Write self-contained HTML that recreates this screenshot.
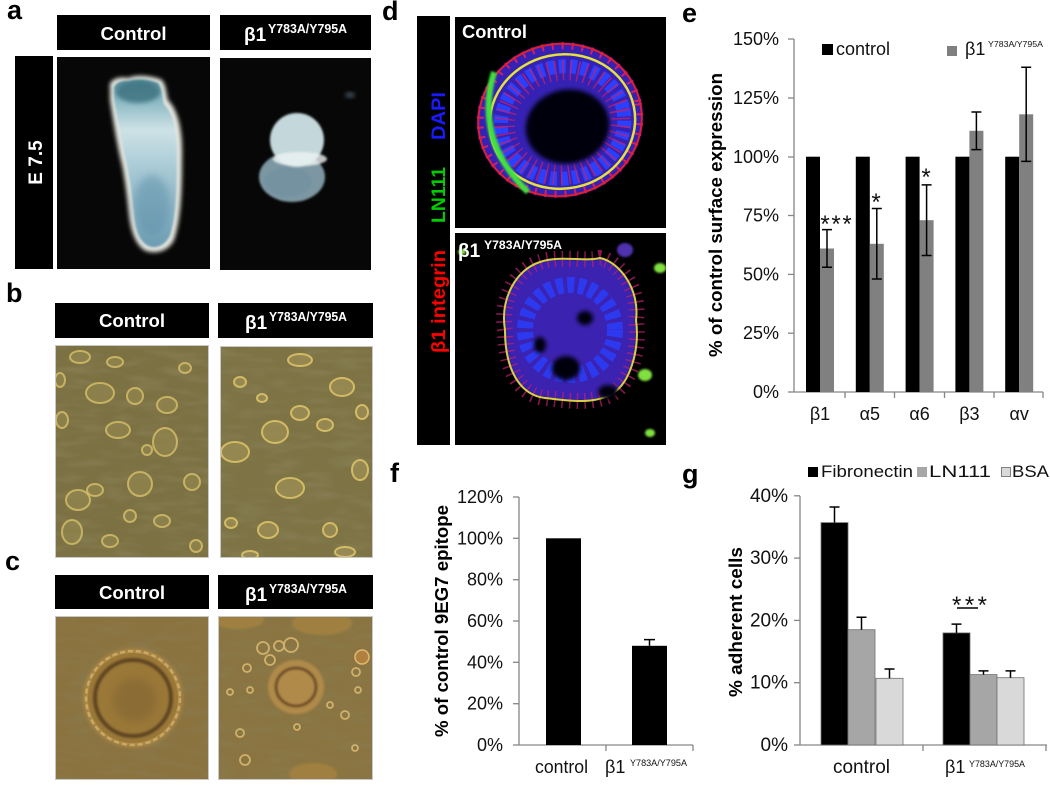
<!DOCTYPE html>
<html><head><meta charset="utf-8"><style>
html,body{margin:0;padding:0;background:#fff;}
svg{display:block;font-family:"Liberation Sans",Arial,sans-serif;}
</style></head><body>
<svg width="1050" height="787" viewBox="0 0 1050 787" xmlns="http://www.w3.org/2000/svg">
<defs>
 <filter id="bl1" x="-20%" y="-20%" width="140%" height="140%"><feGaussianBlur stdDeviation="1"/></filter>
 <filter id="bl2" x="-20%" y="-20%" width="140%" height="140%"><feGaussianBlur stdDeviation="2"/></filter>
 <filter id="bl4" x="-30%" y="-30%" width="160%" height="160%"><feGaussianBlur stdDeviation="4"/></filter>
 <filter id="texD" x="0" y="0" width="1" height="1">
   <feTurbulence type="fractalNoise" baseFrequency="0.03 0.12" numOctaves="2" seed="9"/>
   <feColorMatrix type="matrix" values="0 0 0 0 0.25  0 0 0 0 0.22  0 0 0 0 0.1  0 0 0 1.6 -0.7"/>
 </filter>
 <linearGradient id="embC" x1="0" y1="0" x2="0" y2="1">
   <stop offset="0" stop-color="#4f8694"/>
   <stop offset="0.12" stop-color="#88b6c2"/>
   <stop offset="0.3" stop-color="#cde2e6"/>
   <stop offset="0.55" stop-color="#a6c8d4"/>
   <stop offset="1" stop-color="#6d9db3"/>
 </linearGradient>
</defs>

<!-- ============ PANEL LABELS ============ -->
<g font-weight="bold" font-size="27" fill="#000">
 <text x="7" y="19">a</text>
 <text x="6" y="302">b</text>
 <text x="5" y="570">c</text>
 <text x="382" y="20">d</text>
 <text x="682" y="22">e</text>
 <text x="390" y="482">f</text>
 <text x="682" y="483">g</text>
</g>

<!-- ============ PANEL A ============ -->
<rect x="57" y="15" width="153" height="35" fill="#000"/>
<rect x="220" y="15" width="151" height="35" fill="#000"/>
<rect x="15" y="56" width="38" height="213" fill="#000"/>
<g fill="#fff" font-weight="bold">
 <text x="133.5" y="40" font-size="18" text-anchor="middle" textLength="66" lengthAdjust="spacingAndGlyphs">Control</text>
 <text x="244" y="41" font-size="19">β1</text>
 <text x="268" y="33" font-size="12.5" textLength="79" lengthAdjust="spacingAndGlyphs">Y783A/Y795A</text>
 <text transform="translate(42,162.5) rotate(-90)" font-size="19" text-anchor="middle">E 7.5</text>
</g>
<svg x="57" y="57" width="153" height="212" viewBox="57 57 153 212">
 <rect x="57" y="57" width="153" height="212" fill="#070707"/>
 <path d="M110,88 C108,80 118,76 128,78 C138,74 150,76 160,79 C166,82 166,92 168,100 C178,110 183,130 182,160 C182,190 181,220 174,240 C168,252 155,254 146,251 C136,246 131,232 129,215 C127,195 125,180 122,165 C117,145 113,120 110,100 Z" fill="#e6e8e0" filter="url(#bl2)"/>
 <path d="M114,90 C113,84 120,80 129,81 C139,78 150,80 158,83 C162,88 162,96 164,104 C174,114 178,132 177,160 C177,190 176,218 170,236 C164,247 155,249 148,246 C139,241 135,230 134,214 C132,196 130,182 127,166 C122,146 118,122 114,100 Z" fill="url(#embC)" filter="url(#bl1)"/>
 <ellipse cx="138" cy="92" rx="22" ry="11" fill="#3f7482" opacity="0.85" filter="url(#bl2)"/>
 <ellipse cx="152" cy="205" rx="18" ry="30" fill="#5d8fa8" opacity="0.5" filter="url(#bl4)"/>
</svg>
<svg x="220" y="58" width="151" height="212" viewBox="220 58 151 212">
 <rect x="220" y="58" width="151" height="212" fill="#070707"/>
 <g filter="url(#bl1)">
  <ellipse cx="292" cy="177" rx="33" ry="25" fill="#8aa7b4" opacity="0.9"/>
  <ellipse cx="297" cy="140" rx="27" ry="27" fill="#c4d8dc"/>
  <ellipse cx="300" cy="159" rx="27" ry="7" fill="#eef4f2" opacity="0.8"/>
  <ellipse cx="288" cy="182" rx="24" ry="15" fill="#6f8fa0" opacity="0.6"/>
 </g>
 <ellipse cx="350" cy="95" rx="5" ry="3" fill="#3a4a52" filter="url(#bl2)"/>
</svg>

<!-- ============ PANEL B ============ -->
<rect x="55" y="303" width="154" height="35" fill="#000"/>
<rect x="218" y="303" width="155" height="35" fill="#000"/>
<g fill="#fff" font-weight="bold">
 <text x="132" y="327" font-size="18" text-anchor="middle" textLength="66" lengthAdjust="spacingAndGlyphs">Control</text>
 <text x="245" y="329" font-size="19">β1</text>
 <text x="269" y="321" font-size="12.5" textLength="78" lengthAdjust="spacingAndGlyphs">Y783A/Y795A</text>
</g>
<svg x="55" y="345" width="154" height="213" viewBox="55 345 154 213">
 <rect x="55" y="345" width="154" height="213" fill="#7c7142"/>
 <rect x="55" y="345" width="154" height="213" filter="url(#texD)"/>
 <g fill="#9a8d52" fill-opacity="0.5" stroke="#d8c06c" stroke-width="2" stroke-opacity="0.8">
  <ellipse cx="80" cy="357" rx="10" ry="6"/><ellipse cx="115" cy="362" rx="8" ry="5"/>
  <ellipse cx="100" cy="393" rx="14" ry="10"/><ellipse cx="135" cy="396" rx="8" ry="8"/>
  <ellipse cx="167" cy="405" rx="10" ry="8"/><ellipse cx="62" cy="420" rx="6" ry="8"/>
  <ellipse cx="118" cy="430" rx="12" ry="8"/><ellipse cx="165" cy="442" rx="12" ry="14"/>
  <ellipse cx="147" cy="450" rx="5" ry="5"/><ellipse cx="95" cy="490" rx="8" ry="6"/>
  <ellipse cx="140" cy="484" rx="12" ry="12"/><ellipse cx="192" cy="482" rx="8" ry="8"/>
  <ellipse cx="78" cy="500" rx="12" ry="10"/><ellipse cx="130" cy="516" rx="6" ry="6"/>
  <ellipse cx="162" cy="521" rx="8" ry="6"/><ellipse cx="72" cy="532" rx="10" ry="12"/>
  <ellipse cx="196" cy="546" rx="6" ry="6"/><ellipse cx="110" cy="541" rx="8" ry="6"/>
  <ellipse cx="185" cy="368" rx="6" ry="5"/><ellipse cx="60" cy="380" rx="5" ry="7"/>
 </g>
 <rect x="55.5" y="345.5" width="153" height="212" fill="none" stroke="#c8c8c8"/>
</svg>
<svg x="220" y="346" width="153" height="212" viewBox="220 346 153 212">
 <rect x="220" y="346" width="153" height="212" fill="#7d7344"/>
 <rect x="220" y="346" width="153" height="212" filter="url(#texD)"/>
 <g fill="#a8975a" fill-opacity="0.55" stroke="#e0c66a" stroke-width="2" stroke-opacity="0.85">
  <ellipse cx="342" cy="387" rx="12" ry="9"/><ellipse cx="275" cy="432" rx="13" ry="11"/>
  <ellipse cx="240" cy="382" rx="6" ry="5"/><ellipse cx="262" cy="398" rx="5" ry="4"/>
  <ellipse cx="300" cy="413" rx="9" ry="7"/><ellipse cx="325" cy="425" rx="8" ry="6"/>
  <ellipse cx="235" cy="452" rx="14" ry="10"/><ellipse cx="290" cy="488" rx="14" ry="10"/>
  <ellipse cx="268" cy="530" rx="10" ry="8"/><ellipse cx="231" cy="523" rx="6" ry="5"/>
  <ellipse cx="330" cy="530" rx="7" ry="7"/><ellipse cx="360" cy="470" rx="8" ry="10"/>
  <ellipse cx="300" cy="360" rx="12" ry="6"/><ellipse cx="345" cy="552" rx="10" ry="5"/>
  <ellipse cx="250" cy="555" rx="8" ry="4"/><ellipse cx="362" cy="412" rx="6" ry="7"/>
 </g>
 <rect x="220.5" y="346.5" width="152" height="211" fill="none" stroke="#c8c8c8"/>
</svg>

<!-- ============ PANEL C ============ -->
<rect x="55" y="575" width="154" height="34" fill="#000"/>
<rect x="218" y="575" width="155" height="34" fill="#000"/>
<g fill="#fff" font-weight="bold">
 <text x="132" y="599" font-size="18" text-anchor="middle" textLength="66" lengthAdjust="spacingAndGlyphs">Control</text>
 <text x="245" y="601" font-size="19">β1</text>
 <text x="269" y="593" font-size="12.5" textLength="78" lengthAdjust="spacingAndGlyphs">Y783A/Y795A</text>
</g>
<svg x="55" y="616" width="154" height="164" viewBox="55 616 154 164">
 <rect x="55" y="616" width="154" height="164" fill="#8b7340"/>
 <rect x="55" y="616" width="154" height="164" filter="url(#texD)" opacity="0.6"/>
 <circle cx="133" cy="698" r="49" fill="#b08c48" filter="url(#bl2)"/>
 <circle cx="133" cy="698" r="45" fill="#9a7838"/>
 <circle cx="133" cy="698" r="38" fill="none" stroke="#5e4522" stroke-width="4" filter="url(#bl1)"/>
 <circle cx="133" cy="698" r="47" fill="none" stroke="#d2b068" stroke-width="2.5" stroke-dasharray="5 3" opacity="0.8"/>
 <circle cx="135" cy="700" r="22" fill="#7e6230" opacity="0.5" filter="url(#bl4)"/>
 <rect x="55.5" y="616.5" width="153" height="163" fill="none" stroke="#c8c8c8"/>
</svg>
<svg x="218" y="616" width="155" height="164" viewBox="218 616 155 164">
 <rect x="218" y="616" width="155" height="164" fill="#8a7542"/>
 <rect x="218" y="616" width="155" height="164" filter="url(#texD)" opacity="0.6"/>
 <g filter="url(#bl1)">
  <ellipse cx="296" cy="687" rx="28" ry="27" fill="#b08a4a"/>
  <ellipse cx="296" cy="687" rx="20" ry="19" fill="none" stroke="#6a4828" stroke-width="3"/>
  <ellipse cx="238" cy="619" rx="26" ry="10" fill="#a08040"/>
  <ellipse cx="322" cy="623" rx="30" ry="12" fill="#a08040"/>
  <ellipse cx="313" cy="774" rx="24" ry="11" fill="#a08040"/>
 </g>
 <g fill="none" stroke="#d8b870" stroke-width="1.8" opacity="0.9">
  <circle cx="263" cy="648" r="6"/><circle cx="270" cy="660" r="5"/><circle cx="279" cy="646" r="5"/>
  <circle cx="291" cy="645" r="7"/><circle cx="247" cy="668" r="4"/><circle cx="250" cy="690" r="3"/>
  <circle cx="356" cy="672" r="4"/><circle cx="358" cy="690" r="3"/><circle cx="240" cy="733" r="4"/>
  <circle cx="245" cy="760" r="5"/><circle cx="297" cy="727" r="3"/><circle cx="345" cy="715" r="4"/>
  <circle cx="355" cy="748" r="3"/><circle cx="230" cy="692" r="3"/><circle cx="330" cy="705" r="3"/>
 </g>
 <circle cx="362" cy="657" r="7" fill="#b08040" stroke="#e0b870" stroke-width="1.5"/>
 <rect x="218.5" y="616.5" width="154" height="163" fill="none" stroke="#c8c8c8"/>
</svg>

<!-- ============ PANEL D ============ -->
<rect x="417" y="16" width="33" height="429" fill="#000"/>
<g font-weight="bold" font-size="19">
 <text transform="translate(445,116) rotate(-90)" text-anchor="middle" fill="#1a1aff" textLength="48" lengthAdjust="spacingAndGlyphs">DAPI</text>
 <text transform="translate(445,195) rotate(-90)" text-anchor="middle" fill="#00cc00" textLength="56" lengthAdjust="spacingAndGlyphs">LN111</text>
 <text transform="translate(445,301.5) rotate(-90)" text-anchor="middle" fill="#ff0000" textLength="103" lengthAdjust="spacingAndGlyphs">β1 integrin</text>
</g>
<svg x="455" y="17" width="211" height="211" viewBox="455 17 211 211">
 <rect x="455" y="17" width="211" height="211" fill="#000"/>
 <g transform="rotate(-12 560 120)">
  <ellipse cx="560" cy="120" rx="83" ry="77" fill="#3422b4" filter="url(#bl1)"/>
  <ellipse cx="560" cy="120" rx="80" ry="74" fill="none" stroke="#d0206a" stroke-width="7" stroke-dasharray="2 8"/>
  <ellipse cx="560" cy="120" rx="82" ry="76" fill="none" stroke="#e02030" stroke-width="2"/>
  <ellipse cx="562" cy="123" rx="62" ry="56" fill="none" stroke="#2a40ff" stroke-width="14" stroke-dasharray="7 4"/>
  <ellipse cx="562" cy="123" rx="58" ry="52" fill="none" stroke="#c02070" stroke-width="20" stroke-dasharray="1.5 6" opacity="0.8"/>
  <ellipse cx="566" cy="128" rx="42" ry="37" fill="#050010" filter="url(#bl2)"/>
  <ellipse cx="562" cy="122" rx="73" ry="67" fill="none" stroke="#e4e040" stroke-width="2.5"/>
 </g>
 <path d="M494,72 Q474,140 528,192" fill="none" stroke="#40e040" stroke-width="6" filter="url(#bl1)"/>
 <text x="462" y="38" font-size="18" font-weight="bold" fill="#fff" textLength="65" lengthAdjust="spacingAndGlyphs">Control</text>
</svg>
<svg x="455" y="233" width="211" height="212" viewBox="455 233 211 212">
 <rect x="455" y="233" width="211" height="212" fill="#000"/>
 <path d="M505,330 C500,300 515,270 540,262 C560,255 585,262 600,258 C620,262 640,290 636,320 C640,350 630,385 610,395 C590,405 565,400 545,398 C520,395 505,370 505,330 Z" fill="#3a24b0" filter="url(#bl1)"/>
 <path d="M505,330 C500,300 515,270 540,262 C560,255 585,262 600,258 C620,262 640,290 636,320 C640,350 630,385 610,395 C590,405 565,400 545,398 C520,395 505,370 505,330 Z" fill="none" stroke="#c02070" stroke-width="16" stroke-dasharray="1.5 6" opacity="0.7"/>
 <ellipse cx="570" cy="330" rx="45" ry="45" fill="none" stroke="#2a40ff" stroke-width="16" stroke-dasharray="7 4" opacity="0.8"/>
 <path d="M505,330 C500,300 515,270 540,262 C560,255 585,262 600,258 C620,262 640,290 636,320 C640,350 630,385 610,395 C590,405 565,400 545,398 C520,395 505,370 505,330 Z" fill="none" stroke="#d8d040" stroke-width="2"/>
 <g fill="#050010" filter="url(#bl2)">
  <ellipse cx="566" cy="368" rx="14" ry="12"/><ellipse cx="608" cy="392" rx="10" ry="7"/>
  <ellipse cx="585" cy="318" rx="8" ry="7"/><ellipse cx="540" cy="345" rx="6" ry="8"/>
 </g>
 <g fill="#80e040" filter="url(#bl1)">
  <ellipse cx="660" cy="268" rx="6" ry="5"/><ellipse cx="645" cy="375" rx="7" ry="6"/>
  <ellipse cx="650" cy="433" rx="5" ry="4"/><ellipse cx="462" cy="252" rx="4" ry="3"/>
 </g>
 <ellipse cx="625" cy="250" rx="8" ry="7" fill="#5030b0" filter="url(#bl1)"/>
 <text x="458" y="257" font-size="19" font-weight="bold" fill="#fff">β1</text>
 <text x="484" y="249" font-size="12" font-weight="bold" fill="#fff" textLength="78" lengthAdjust="spacingAndGlyphs">Y783A/Y795A</text>
</svg>

<!-- ============ PANEL E (chart) ============ -->
<g stroke="#868686" stroke-width="1.3" fill="none">
 <line x1="794" y1="39" x2="794" y2="392"/>
 <line x1="794" y1="392" x2="1043" y2="392"/>
 <line x1="788" y1="39" x2="794" y2="39"/><line x1="788" y1="98" x2="794" y2="98"/>
 <line x1="788" y1="157" x2="794" y2="157"/><line x1="788" y1="215.5" x2="794" y2="215.5"/>
 <line x1="788" y1="274.4" x2="794" y2="274.4"/><line x1="788" y1="333.2" x2="794" y2="333.2"/>
 <line x1="788" y1="392" x2="794" y2="392"/>
 <line x1="845" y1="392" x2="845" y2="398"/><line x1="894.5" y1="392" x2="894.5" y2="398"/>
 <line x1="944.5" y1="392" x2="944.5" y2="398"/><line x1="994" y1="392" x2="994" y2="398"/>
 <line x1="1043" y1="392" x2="1043" y2="398"/>
</g>
<g font-size="18" fill="#111" text-anchor="end">
 <text x="779" y="45">150%</text><text x="779" y="104">125%</text><text x="779" y="163">100%</text>
 <text x="779" y="221.5">75%</text><text x="779" y="280.4">50%</text><text x="779" y="339.2">25%</text>
 <text x="779" y="398">0%</text>
</g>
<text transform="translate(722,215) rotate(-90)" text-anchor="middle" font-size="18" font-weight="bold" textLength="284" lengthAdjust="spacingAndGlyphs">% of control surface expression</text>
<g fill="#000">
 <rect x="806" y="156.7" width="14" height="235.3"/><rect x="855.8" y="156.7" width="14" height="235.3"/>
 <rect x="905.6" y="156.7" width="14" height="235.3"/><rect x="955.4" y="156.7" width="14" height="235.3"/>
 <rect x="1005.2" y="156.7" width="14" height="235.3"/>
</g>
<g fill="#808080">
 <rect x="820" y="248.5" width="14" height="143.5"/><rect x="869.8" y="243.8" width="14" height="148.2"/>
 <rect x="919.6" y="220.2" width="14" height="171.8"/><rect x="969.4" y="130.8" width="14" height="261.2"/>
 <rect x="1019.2" y="114.3" width="14" height="277.7"/>
</g>
<g stroke="#000" stroke-width="1.5" fill="none">
 <path d="M827,229.6 V267.3 M822,229.6 H832 M822,267.3 H832"/>
 <path d="M876.8,208.5 V279 M871.8,208.5 H881.8 M871.8,279 H881.8"/>
 <path d="M926.6,184.9 V255.5 M921.6,184.9 H931.6 M921.6,255.5 H931.6"/>
 <path d="M976.4,112 V149.6 M971.4,112 H981.4 M971.4,149.6 H981.4"/>
 <path d="M1026.2,67.3 V161.4 M1021.2,67.3 H1031.2 M1021.2,161.4 H1031.2"/>
</g>
<g font-size="24" fill="#111" text-anchor="middle">
 <text x="825" y="232">*</text><text x="836" y="232">*</text><text x="847" y="232">*</text>
 <text x="876" y="210">*</text>
 <text x="926" y="185">*</text>
</g>
<rect x="822" y="44" width="11" height="11" fill="#000"/>
<text x="836" y="55" font-size="18" fill="#111" textLength="54" lengthAdjust="spacingAndGlyphs">control</text>
<rect x="947" y="46" width="10" height="10" fill="#808080"/>
<text x="965" y="55" font-size="18" fill="#111">β1</text>
<text x="988" y="47" font-size="8.5" fill="#111" textLength="55" lengthAdjust="spacingAndGlyphs">Y783A/Y795A</text>
<g font-size="18" fill="#111" text-anchor="middle">
 <text x="820" y="420">β1</text><text x="869.8" y="420">α5</text><text x="919.6" y="420">α6</text>
 <text x="969.4" y="420">β3</text><text x="1019.2" y="420">αv</text>
</g>

<!-- ============ PANEL F (chart) ============ -->
<g stroke="#868686" stroke-width="1.3" fill="none">
 <line x1="519" y1="497" x2="519" y2="745"/>
 <line x1="519" y1="745" x2="693" y2="745"/>
 <line x1="513" y1="497" x2="519" y2="497"/><line x1="513" y1="538.3" x2="519" y2="538.3"/>
 <line x1="513" y1="579.7" x2="519" y2="579.7"/><line x1="513" y1="621" x2="519" y2="621"/>
 <line x1="513" y1="662.3" x2="519" y2="662.3"/><line x1="513" y1="703.7" x2="519" y2="703.7"/>
 <line x1="513" y1="745" x2="519" y2="745"/>
 <line x1="606" y1="745" x2="606" y2="751"/><line x1="693" y1="745" x2="693" y2="751"/>
</g>
<g font-size="18" fill="#111" text-anchor="end">
 <text x="503" y="503">120%</text><text x="503" y="544.3">100%</text><text x="503" y="585.7">80%</text>
 <text x="503" y="627">60%</text><text x="503" y="668.3">40%</text><text x="503" y="709.7">20%</text>
 <text x="503" y="751">0%</text>
</g>
<text transform="translate(448,621) rotate(-90)" text-anchor="middle" font-size="18" font-weight="bold" textLength="232" lengthAdjust="spacingAndGlyphs">% of control 9EG7 epitope</text>
<rect x="546" y="538.3" width="35" height="206.7" fill="#000"/>
<rect x="632" y="645.8" width="35" height="99.2" fill="#000"/>
<path d="M649.5,645.8 V639.6 M644,639.6 H655" stroke="#000" stroke-width="1.5" fill="none"/>
<text x="561.5" y="773" font-size="18" fill="#111" text-anchor="middle" textLength="53" lengthAdjust="spacingAndGlyphs">control</text>
<text x="605" y="773" font-size="18" fill="#111">β1</text>
<text x="630" y="766" font-size="9" fill="#111" textLength="57" lengthAdjust="spacingAndGlyphs">Y783A/Y795A</text>

<!-- ============ PANEL G (chart) ============ -->
<rect x="808" y="467" width="10" height="10" fill="#000"/>
<text x="821" y="477" font-size="16.5" fill="#111" textLength="92" lengthAdjust="spacingAndGlyphs">Fibronectin</text>
<rect x="917" y="467" width="10" height="10" fill="#a6a6a6"/>
<text x="929" y="477" font-size="16.5" fill="#111" textLength="62" lengthAdjust="spacingAndGlyphs">LN111</text>
<rect x="1001.5" y="467.5" width="9" height="9" fill="#d9d9d9" stroke="#808080"/>
<text x="1012" y="477" font-size="16.5" fill="#111" textLength="37" lengthAdjust="spacingAndGlyphs">BSA</text>
<g stroke="#868686" stroke-width="1.3" fill="none">
 <line x1="800" y1="496" x2="800" y2="745"/>
 <line x1="800" y1="745" x2="1047" y2="745"/>
 <line x1="794" y1="495.8" x2="800" y2="495.8"/><line x1="794" y1="558.1" x2="800" y2="558.1"/>
 <line x1="794" y1="620.4" x2="800" y2="620.4"/><line x1="794" y1="682.7" x2="800" y2="682.7"/>
 <line x1="794" y1="745" x2="800" y2="745"/>
 <line x1="923" y1="745" x2="923" y2="751"/><line x1="1046" y1="745" x2="1046" y2="751"/>
</g>
<g font-size="19" fill="#111" text-anchor="end">
 <text x="788" y="502">40%</text><text x="788" y="564">30%</text><text x="788" y="626.4">20%</text>
 <text x="788" y="688.7">10%</text><text x="788" y="751">0%</text>
</g>
<text transform="translate(742,622) rotate(-90)" text-anchor="middle" font-size="18" font-weight="bold" textLength="150" lengthAdjust="spacingAndGlyphs">% adherent cells</text>
<g stroke="#707070" stroke-width="0.8">
 <rect x="821" y="522.6" width="27" height="222.4" fill="#000"/>
 <rect x="848" y="629.7" width="27" height="115.3" fill="#a6a6a6"/>
 <rect x="876" y="678.3" width="27" height="66.7" fill="#d9d9d9"/>
 <rect x="943" y="632.9" width="27" height="112.1" fill="#000"/>
 <rect x="970" y="674.6" width="27" height="70.4" fill="#a6a6a6"/>
 <rect x="997" y="677.7" width="27" height="67.3" fill="#d9d9d9"/>
</g>
<g stroke="#000" stroke-width="1.5" fill="none">
 <path d="M834.5,522.6 V507 M829.5,507 H839.5"/>
 <path d="M861.5,629.7 V617.3 M856.5,617.3 H866.5"/>
 <path d="M889.5,678.3 V669 M884.5,669 H894.5"/>
 <path d="M956.5,632.9 V624.1 M951.5,624.1 H961.5"/>
 <path d="M983.5,674.6 V670.9 M978.5,670.9 H988.5"/>
 <path d="M1010.5,677.7 V670.9 M1005.5,670.9 H1015.5"/>
 <path d="M957,608 H978"/>
</g>
<text x="952" y="613" font-size="24" fill="#111" textLength="35" lengthAdjust="spacing">***</text>
<text x="861.5" y="773" font-size="19" fill="#111" text-anchor="middle" textLength="57" lengthAdjust="spacingAndGlyphs">control</text>
<text x="945" y="773" font-size="18" fill="#111">β1</text>
<text x="969" y="767" font-size="9" fill="#111" textLength="56" lengthAdjust="spacingAndGlyphs">Y783A/Y795A</text>
</svg>
</body></html>
